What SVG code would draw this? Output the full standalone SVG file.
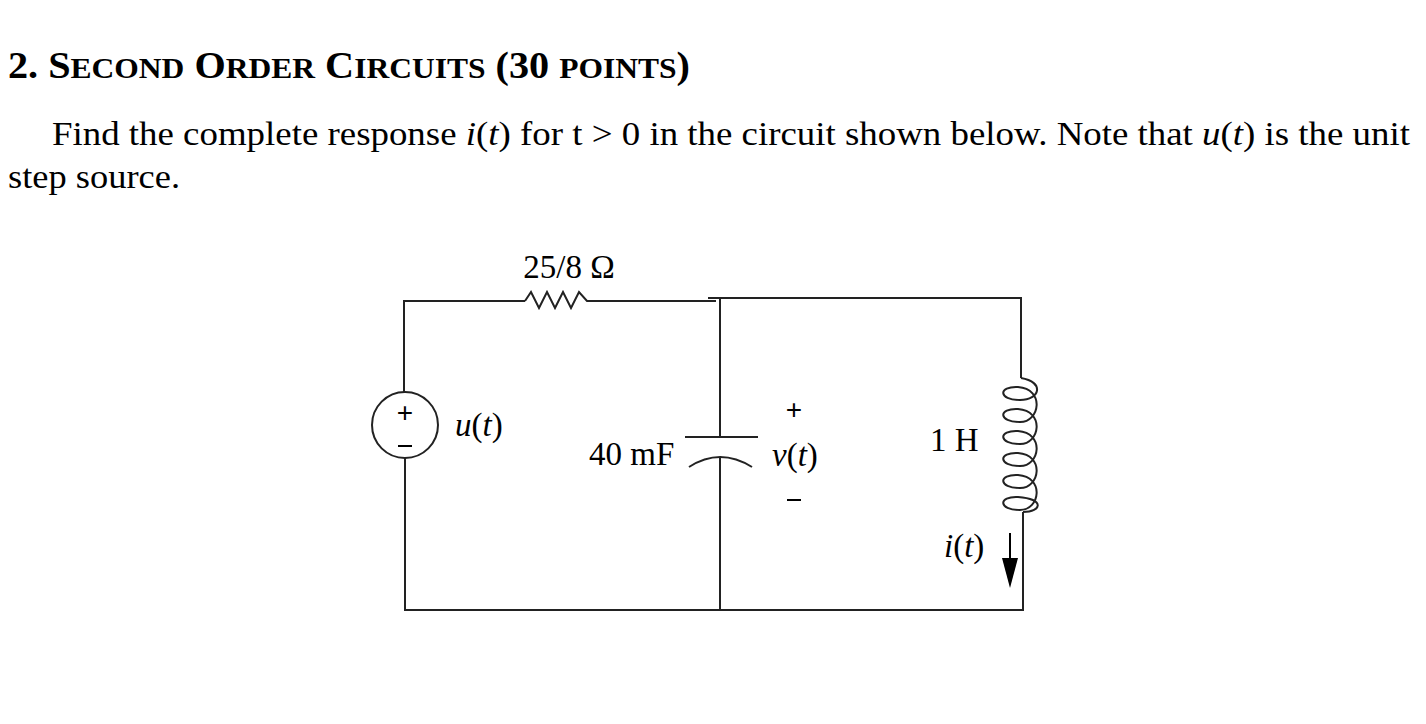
<svg xmlns="http://www.w3.org/2000/svg" width="1426" height="724" viewBox="0 0 1426 724">
<style>
.t{font-family:"Liberation Serif",serif;fill:#000}
.w{stroke:#222;stroke-width:2;fill:none}
</style>
<rect width="1426" height="724" fill="#fff"/>
<text class="t" x="8" y="78" font-size="37" font-weight="bold" textLength="682" lengthAdjust="spacingAndGlyphs">2. S<tspan font-size="29">ECOND</tspan> O<tspan font-size="29">RDER</tspan> C<tspan font-size="29">IRCUITS</tspan> (30 <tspan font-size="29">POINTS</tspan>)</text>
<text class="t" x="52" y="145" font-size="33" textLength="1358" lengthAdjust="spacingAndGlyphs">Find the complete response <tspan font-style="italic">i</tspan>(<tspan font-style="italic">t</tspan>) for t &gt; 0 in the circuit shown below. Note that <tspan font-style="italic">u</tspan>(<tspan font-style="italic">t</tspan>) is the unit</text>
<text class="t" x="8" y="188" font-size="33" textLength="172" lengthAdjust="spacingAndGlyphs">step source.</text>
<g id="connectors">
<path class="w" d="M404 392 V301 H525 M590 301 H716 M708 298 H1021 V378"/>
<path class="w" d="M405 458 V610 H1023 V512"/>
<path class="w" d="M720 298 V436 M720 458 V610"/>
</g>
<g id="source">
<circle cx="405" cy="425" r="33" class="w"/>
<text x="405" y="422" font-family="Liberation Sans,sans-serif" font-size="28" text-anchor="middle">+</text>
<line x1="398" y1="446" x2="412" y2="446" stroke="#000" stroke-width="2"/>
<text class="t" x="455" y="436" font-size="33" font-style="italic">u<tspan font-style="normal">(</tspan>t<tspan font-style="normal">)</tspan></text>
</g>
<g id="resistor">
<path class="w" d="M525 301 L531 292 L539 308 L547 292 L555 308 L563 292 L571 308 L579 292 L587 301 H590"/>
<text class="t" x="569" y="278" font-size="33" text-anchor="middle">25/8 Ω</text>
</g>
<g id="capacitor">
<line x1="685" y1="437" x2="758" y2="437" stroke="#222" stroke-width="2"/>
<path class="w" d="M689 467 Q720 447 752 467"/>
<text class="t" x="589" y="465" font-size="33">40 mF</text>
<text x="794" y="419" font-family="Liberation Sans,sans-serif" font-size="28" text-anchor="middle">+</text>
<text class="t" x="772" y="466" font-size="33" font-style="italic">v<tspan font-style="normal">(</tspan>t<tspan font-style="normal">)</tspan></text>
<line x1="787" y1="500" x2="801" y2="500" stroke="#000" stroke-width="2"/>
</g>
<g id="inductor">
<path class="w" d="M1021 378 C1045 382 1040 400 1020 400 C998 400 998 386 1018 387 C1045 389 1040 422 1020 422 C998 422 998 408 1018 409 C1045 411 1040 444 1020 444 C998 444 998 430 1018 431 C1045 433 1040 466 1020 466 C998 466 998 452 1018 453 C1045 455 1040 488 1020 488 C998 488 998 474 1018 475 C1045 477 1040 510 1020 510 C998 510 998 496 1018 497 C1045 499 1042 512 1023 512"/>
<text class="t" x="930" y="451" font-size="33">1 H</text>
<text class="t" x="944" y="557" font-size="33" font-style="italic">i<tspan font-style="normal">(</tspan>t<tspan font-style="normal">)</tspan></text>
<line x1="1010" y1="533" x2="1010" y2="560" stroke="#000" stroke-width="2"/>
<path d="M1002 558 L1018 558 L1010 588 Z" fill="#000"/>
</g>
</svg>
